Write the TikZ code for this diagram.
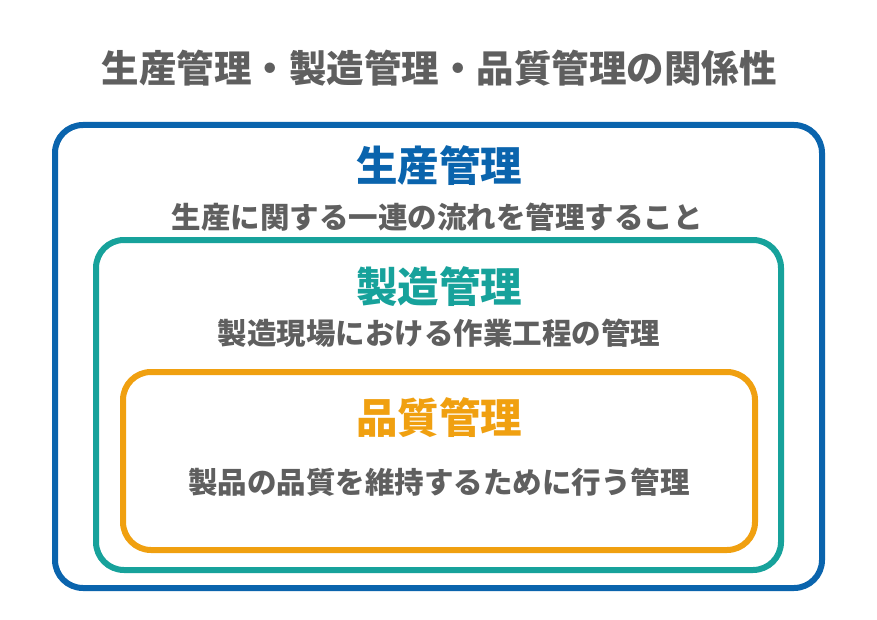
\documentclass[tikz,border=0pt]{standalone}
\usepackage{fontspec}
\newfontfamily\cjk{Noto Sans CJK JP}
\definecolor{cblue}{HTML}{0A64AD}
\definecolor{cteal}{HTML}{17A29B}
\definecolor{corange}{HTML}{F0A010}
\definecolor{cgray}{HTML}{5F5F5F}
\begin{document}
\begin{tikzpicture}[x=1pt,y=-1pt,
  frame/.style={line width=6pt,rounded corners=28pt},
  head/.style={font=\cjk\bfseries\fontsize{41.5}{44}\selectfont,inner sep=0pt},
  sub/.style={font=\cjk\bfseries\fontsize{29.5}{32}\selectfont,text=cgray,inner sep=0pt}]
\useasboundingbox[fill=white] (0,0) rectangle (877,620);
\node[head,text=cgray,font=\cjk\bfseries\fontsize{37.5}{40}\selectfont] (title) at (439,68) {生産管理・製造管理・品質管理の関係性};
\draw[frame,cblue] (55,125) rectangle (822,588);
\draw[frame,cteal] (96,240) rectangle (781,570);
\draw[frame,corange] (123,372) rectangle (755,550);
\node[head,text=cblue] (h1) at (439,166) {生産管理};
\node[sub] (s1) at (437,217) {生産に関する一連の流れを管理すること};
\node[head,text=cteal] (h2) at (439,287) {製造管理};
\node[sub] (s2) at (439,333) {製造現場における作業工程の管理};
\node[head,text=corange] (h3) at (439,418) {品質管理};
\node[sub] (s3) at (439,482) {製品の品質を維持するために行う管理};
\end{tikzpicture}
\end{document}
